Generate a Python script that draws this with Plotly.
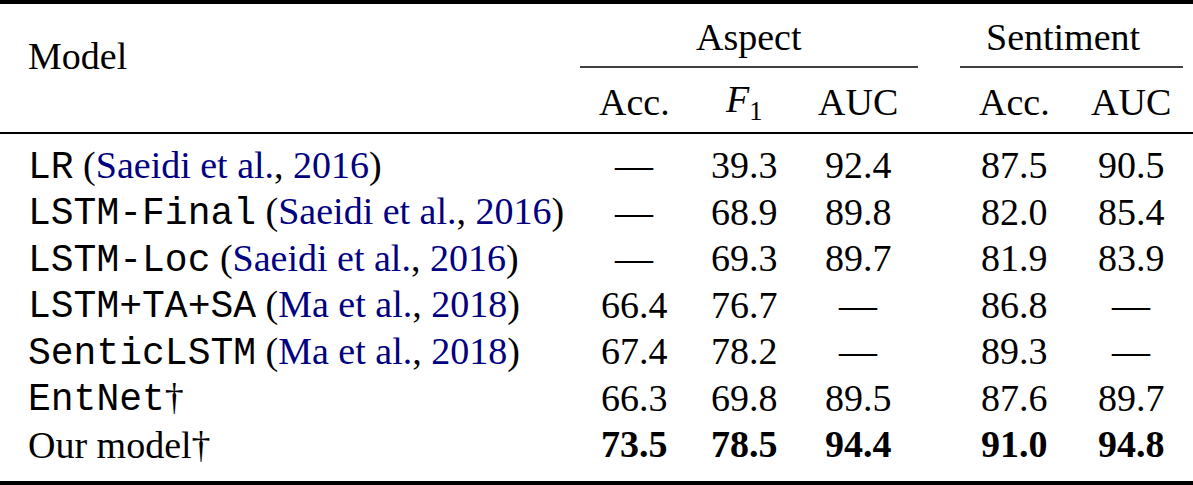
import plotly.graph_objects as go

# ---------------- data ----------------
model_names = ["LR", "LSTM-Final", "LSTM-Loc", "LSTM+TA+SA", "SenticLSTM", "EntNet", "Our model"]
model_is_mono = [True, True, True, True, True, True, False]
model_dagger = [False, False, False, False, False, True, True]
cite_authors = ["Saeidi et al.", "Saeidi et al.", "Saeidi et al.", "Ma et al.", "Ma et al.", None, None]
cite_years = ["2016", "2016", "2016", "2018", "2018", None, None]

aspect_acc = [None, None, None, 66.4, 67.4, 66.3, 73.5]
aspect_f1 = [39.3, 68.9, 69.3, 76.7, 78.2, 69.8, 78.5]
aspect_auc = [92.4, 89.8, 89.7, None, None, 89.5, 94.4]
sent_acc = [87.5, 82.0, 81.9, 86.8, 89.3, 87.6, 91.0]
sent_auc = [90.5, 85.4, 83.9, None, None, 89.7, 94.8]
bold_row = [False, False, False, False, False, False, True]

group_labels = ["Aspect", "Sentiment"]
sub_labels = ["Acc.", "<i>F</i><sub>1</sub>", "AUC", "Acc.", "AUC"]
header_model = "Model"

# ---------------- layout constants ----------------
W, H = 1193, 485
FS = 38
SERIF = "Liberation Serif"
MONO = "Liberation Mono"
NAVY = "#000080"

col_x = [634, 744, 858, 1014, 1131]
group_x = [749, 1063]
group_span = [(580, 918), (960, 1183)]
left_x = 26
row_base0 = 178
row_h = 46.5
sub_base = 115
group_base = 50
model_base = 69
center_off = 12.8  # baseline -> bbox center offset

fig = go.Figure()
fig.add_trace(go.Scatter(x=[0, W], y=[0, H], mode="markers",
                         marker=dict(opacity=0), hoverinfo="skip", showlegend=False))

ann = []


def add_text(x, base, text, xanchor="center", family=SERIF, off=center_off):
    ann.append(dict(x=x, y=base - off, xref="x", yref="y", text=text,
                    showarrow=False, xanchor=xanchor, yanchor="middle",
                    font=dict(family=family, size=FS, color="black")))


# header
add_text(left_x, model_base, header_model, xanchor="left")
for gx, gl in zip(group_x, group_labels):
    add_text(gx, group_base, gl)
for cx, sl in zip(col_x, sub_labels):
    add_text(cx, sub_base, sl)

# body
columns = [aspect_acc, aspect_f1, aspect_auc, sent_acc, sent_auc]
for i, name in enumerate(model_names):
    base = row_base0 + i * row_h
    if model_is_mono[i]:
        t = f'<span style="font-family:{MONO}">{name}</span>'
    else:
        t = name
    if model_dagger[i]:
        t += "†"
    if cite_authors[i]:
        t += (f' (<span style="color:{NAVY}">{cite_authors[i]}</span>, '
              f'<span style="color:{NAVY}">{cite_years[i]}</span>)')
    add_text(left_x, base, t, xanchor="left", off=11.8)
    for cx, col in zip(col_x, columns):
        v = col[i]
        s = "—" if v is None else f"{v:.1f}"
        if bold_row[i] and v is not None:
            s = f"<b>{s}</b>"
        add_text(cx, base, s)

shapes = []
def hline(x0, x1, y, w):
    shapes.append(dict(type="line", xref="x", yref="y", x0=x0, x1=x1, y0=y, y1=y,
                       line=dict(color="black", width=w)))

hline(0, W, 2, 4)
for (a, b) in group_span:
    hline(a, b, 67, 1.5)
hline(0, W, 133, 2)
hline(0, W, 483, 4)

fig.update_layout(
    width=W, height=H, margin=dict(l=0, r=0, t=0, b=0),
    paper_bgcolor="white", plot_bgcolor="white",
    xaxis=dict(range=[0, W], visible=False, fixedrange=True),
    yaxis=dict(range=[H, 0], visible=False, fixedrange=True),
    annotations=ann, shapes=shapes, showlegend=False,
)

fig.write_html("out.html", config={"displayModeBar": False},
               post_script="document.body.style.margin='0';document.body.style.overflow='hidden';")
